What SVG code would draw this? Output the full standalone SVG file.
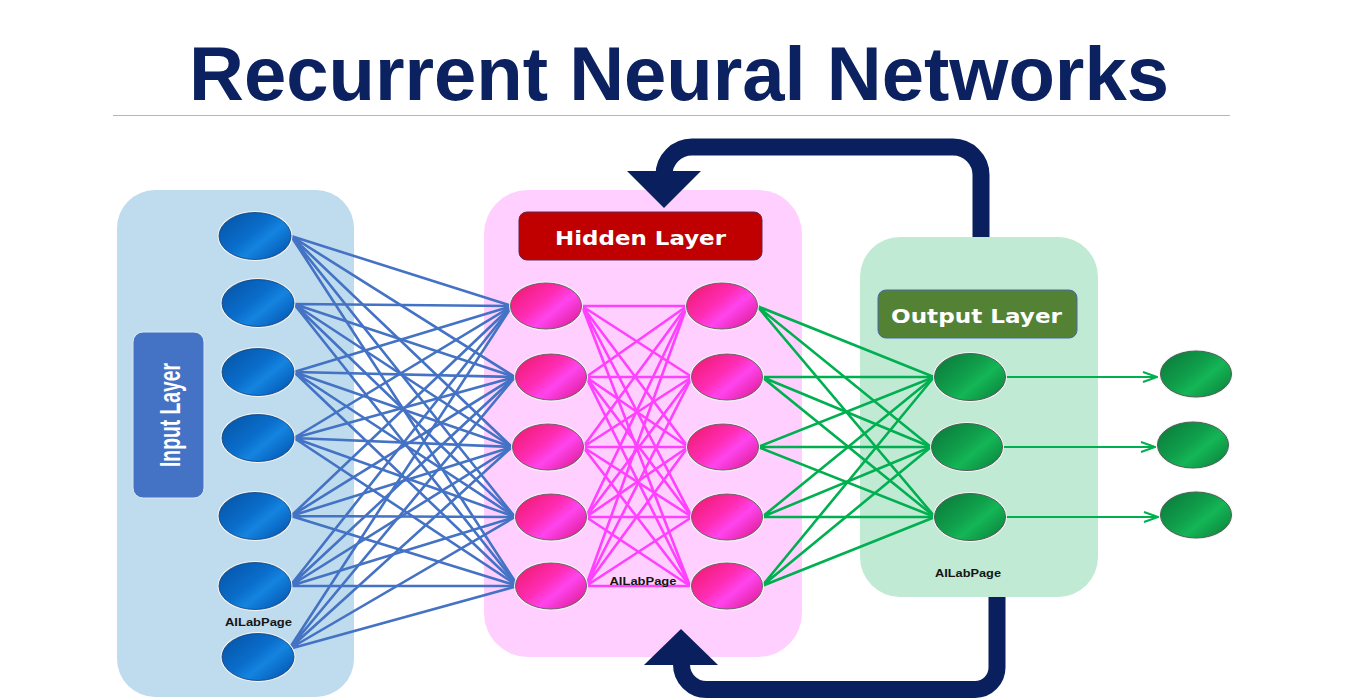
<svg xmlns="http://www.w3.org/2000/svg" width="1358" height="698" viewBox="0 0 1358 698">
<defs>
<linearGradient id="gBlue" x1="0" y1="0.1" x2="1" y2="0.9">
<stop offset="0" stop-color="#0654a6"/><stop offset="0.45" stop-color="#0a6ecc"/><stop offset="0.62" stop-color="#1484e0"/><stop offset="0.82" stop-color="#0a6ac6"/><stop offset="1" stop-color="#064e9e"/>
</linearGradient>
<linearGradient id="gPink" x1="0" y1="0.1" x2="1" y2="0.9">
<stop offset="0" stop-color="#ee1a6e"/><stop offset="0.42" stop-color="#ff2cb4"/><stop offset="0.62" stop-color="#ff44ee"/><stop offset="0.85" stop-color="#ea2ab4"/><stop offset="1" stop-color="#c61866"/>
</linearGradient>
<linearGradient id="gGreen" x1="0" y1="0.1" x2="1" y2="0.9">
<stop offset="0" stop-color="#0b7a3a"/><stop offset="0.45" stop-color="#10a04c"/><stop offset="0.62" stop-color="#14b656"/><stop offset="0.85" stop-color="#0e9646"/><stop offset="1" stop-color="#0a6c34"/>
</linearGradient>
<marker id="chev" viewBox="0 0 16 12" refX="15" refY="6" markerWidth="16" markerHeight="12" markerUnits="userSpaceOnUse" orient="auto">
<path d="M1 1 L15 6 L1 11" fill="none" stroke="#00b050" stroke-width="2"/>
</marker>
</defs>
<style>
.title{font-family:"Liberation Sans",Arial,sans-serif;font-weight:bold;font-size:76px;fill:#0b2160}
.panel{stroke:none}
.lbl{font-family:"DejaVu Sans",Verdana,sans-serif;font-weight:bold;font-size:20px;fill:#ffffff}
.wm{font-family:"Liberation Sans",Arial,sans-serif;font-size:11px;font-weight:bold;fill:#151515}
.halo{fill:#f2f4f6}
.nb{fill:url(#gBlue);stroke:#0a3c78;stroke-width:0.8}
.np{fill:url(#gPink);stroke:#6e6068;stroke-width:1}
.ng{fill:url(#gGreen);stroke:#4e5e52;stroke-width:1}
.cb{stroke:#4472c4;stroke-width:2.6;fill:none}
.cp{stroke:#ff40ff;stroke-width:2.6;fill:none}
.cg{stroke:#00b050;stroke-width:2.6;fill:none}
.ca{stroke:#00b050;stroke-width:2;fill:none}
.loop{stroke:#0a205e;stroke-width:17;fill:none}
.head{fill:#0a205e}
</style>
<rect width="1358" height="698" fill="#ffffff"/>
<g id="title">
<text class="title" x="679" y="100" text-anchor="middle">Recurrent Neural Networks</text>
<line x1="113" y1="115.5" x2="1230" y2="115.5" stroke="#a4b8d8" stroke-width="1.2"/>
</g>
<g id="input-panel"><rect class="panel" x="117" y="190" width="237" height="507" rx="38" fill="#bedcee"/></g>
<g id="hidden-panel"><rect class="panel" x="484" y="190" width="318" height="467" rx="44" fill="#ffd0ff"/></g>
<g id="output-panel"><rect class="panel" x="860" y="237" width="238" height="360" rx="40" fill="#c0ead4"/></g>
<g id="connectors">
<path class="loop" d="M981 237 V175 A28 28 0 0 0 953 147 H692 A28 28 0 0 0 664 175 V172"/>
<polygon class="head" points="627,171 701,171 664,208"/>
<path class="loop" d="M997 597 V667 A22 22 0 0 1 975 689.5 H706.5 A25 25 0 0 1 681.5 664.5 V663"/>
<polygon class="head" points="644,665 718,665 681,629"/>
<path class="cb" d="M291 236 L512 306 M291 236 L515 377 M291 236 L512 447 M291 236 L515 517 M291 236 L518 586"/>
<path class="cb" d="M294 304 L512 306 M294 304 L515 377 M294 304 L512 447 M294 304 L515 517 M294 304 L518 586"/>
<path class="cb" d="M294 372 L512 306 M294 372 L515 377 M294 372 L512 447 M294 372 L515 517 M294 372 L518 586"/>
<path class="cb" d="M294 438 L512 306 M294 438 L515 377 M294 438 L512 447 M294 438 L515 517 M294 438 L518 586"/>
<path class="cb" d="M291 516 L512 306 M291 516 L515 377 M291 516 L512 447 M291 516 L515 517 M291 516 L518 586"/>
<path class="cb" d="M290 586 L512 306 M290 586 L515 377 M290 586 L512 447 M290 586 L515 517 M290 586 L518 586"/>
<path class="cb" d="M289 649 L512 306 M289 649 L515 377 M289 649 L512 447 M289 649 L515 517 M289 649 L518 586"/>
<path class="cp" d="M582 306 L687 306 M582 306 L692 377 M582 306 L688 447 M582 306 L692 517 M582 306 L690 586"/>
<path class="cp" d="M586 377 L687 306 M586 377 L692 377 M586 377 L688 447 M586 377 L692 517 M586 377 L690 586"/>
<path class="cp" d="M583 447 L687 306 M583 447 L692 377 M583 447 L688 447 M583 447 L692 517 M583 447 L690 586"/>
<path class="cp" d="M586 517 L687 306 M586 517 L692 377 M586 517 L688 447 M586 517 L692 517 M586 517 L690 586"/>
<path class="cp" d="M586 586 L687 306 M586 586 L692 377 M586 586 L688 447 M586 586 L692 517 M586 586 L690 586"/>
<path class="cg" d="M757 306 L934 377 M757 306 L931 447 M757 306 L935 517"/>
<path class="cg" d="M762 377 L934 377 M762 377 L931 447 M762 377 L935 517"/>
<path class="cg" d="M758 447 L934 377 M758 447 L931 447 M758 447 L935 517"/>
<path class="cg" d="M762 517 L934 377 M762 517 L931 447 M762 517 L935 517"/>
<path class="cg" d="M762 586 L934 377 M762 586 L931 447 M762 586 L935 517"/>
<path class="ca" d="M1006 377 L1157 377" marker-end="url(#chev)"/>
<path class="ca" d="M1003 447 L1155 447" marker-end="url(#chev)"/>
<path class="ca" d="M1006 517 L1158 517" marker-end="url(#chev)"/>
</g>
<g id="input-label">
<rect x="133" y="332" width="71" height="166" rx="10" fill="#4472c4" stroke="#dbe6f2" stroke-width="1"/>
<text transform="translate(180,415) rotate(-90)" text-anchor="middle" font-family="Liberation Sans, Arial, sans-serif" font-size="29" font-weight="bold" fill="#ffffff" textLength="104" lengthAdjust="spacingAndGlyphs">Input Layer</text>
</g>
<g id="hidden-label">
<rect x="519" y="212" width="243" height="48" rx="8" fill="#c00000" stroke="#5a2a50" stroke-width="1"/>
<text class="lbl" x="640.5" y="245" text-anchor="middle" textLength="171" lengthAdjust="spacingAndGlyphs">Hidden Layer</text>
</g>
<g id="output-label">
<rect x="878" y="290" width="199" height="48" rx="8" fill="#548235" stroke="#4a68a8" stroke-width="1"/>
<text class="lbl" x="976.5" y="323" text-anchor="middle" textLength="171" lengthAdjust="spacingAndGlyphs">Output Layer</text>
</g>
<g id="in1"><ellipse class="halo" cx="255" cy="236" rx="37.5" ry="25"/><ellipse class="nb" cx="255" cy="236" rx="36" ry="23.5"/></g>
<g id="in2"><ellipse class="halo" cx="258" cy="303" rx="37.5" ry="25"/><ellipse class="nb" cx="258" cy="303" rx="36" ry="23.5"/></g>
<g id="in3"><ellipse class="halo" cx="258" cy="372" rx="37.5" ry="25"/><ellipse class="nb" cx="258" cy="372" rx="36" ry="23.5"/></g>
<g id="in4"><ellipse class="halo" cx="258" cy="438" rx="37.5" ry="25"/><ellipse class="nb" cx="258" cy="438" rx="36" ry="23.5"/></g>
<g id="in5"><ellipse class="halo" cx="255" cy="516" rx="37.5" ry="25"/><ellipse class="nb" cx="255" cy="516" rx="36" ry="23.5"/></g>
<g id="in6"><ellipse class="halo" cx="255" cy="586" rx="37.5" ry="25"/><ellipse class="nb" cx="255" cy="586" rx="36" ry="23.5"/></g>
<g id="in7"><ellipse class="halo" cx="258" cy="657" rx="37.5" ry="25"/><ellipse class="nb" cx="258" cy="657" rx="36" ry="23.5"/></g>
<g id="hl1"><ellipse class="halo" cx="546" cy="306" rx="37" ry="24.5"/><ellipse class="np" cx="546" cy="306" rx="35.5" ry="23"/></g>
<g id="hl2"><ellipse class="halo" cx="551" cy="377" rx="37" ry="24.5"/><ellipse class="np" cx="551" cy="377" rx="35.5" ry="23"/></g>
<g id="hl3"><ellipse class="halo" cx="548" cy="447" rx="37" ry="24.5"/><ellipse class="np" cx="548" cy="447" rx="35.5" ry="23"/></g>
<g id="hl4"><ellipse class="halo" cx="551" cy="517" rx="37" ry="24.5"/><ellipse class="np" cx="551" cy="517" rx="35.5" ry="23"/></g>
<g id="hl5"><ellipse class="halo" cx="551" cy="586" rx="37" ry="24.5"/><ellipse class="np" cx="551" cy="586" rx="35.5" ry="23"/></g>
<g id="hr1"><ellipse class="halo" cx="722" cy="306" rx="37" ry="24.5"/><ellipse class="np" cx="722" cy="306" rx="35.5" ry="23"/></g>
<g id="hr2"><ellipse class="halo" cx="727" cy="377" rx="37" ry="24.5"/><ellipse class="np" cx="727" cy="377" rx="35.5" ry="23"/></g>
<g id="hr3"><ellipse class="halo" cx="723" cy="447" rx="37" ry="24.5"/><ellipse class="np" cx="723" cy="447" rx="35.5" ry="23"/></g>
<g id="hr4"><ellipse class="halo" cx="727" cy="517" rx="37" ry="24.5"/><ellipse class="np" cx="727" cy="517" rx="35.5" ry="23"/></g>
<g id="hr5"><ellipse class="halo" cx="727" cy="586" rx="37" ry="24.5"/><ellipse class="np" cx="727" cy="586" rx="35.5" ry="23"/></g>
<g id="out1"><ellipse class="halo" cx="970" cy="377" rx="37" ry="25"/><ellipse class="ng" cx="970" cy="377" rx="35.5" ry="23.5"/></g>
<g id="out2"><ellipse class="halo" cx="967" cy="447" rx="37" ry="25"/><ellipse class="ng" cx="967" cy="447" rx="35.5" ry="23.5"/></g>
<g id="out3"><ellipse class="halo" cx="970" cy="517" rx="37" ry="25"/><ellipse class="ng" cx="970" cy="517" rx="35.5" ry="23.5"/></g>
<g id="y1"><ellipse class="halo" cx="1196" cy="374" rx="37" ry="24.5"/><ellipse class="ng" cx="1196" cy="374" rx="35.5" ry="23"/></g>
<g id="y2"><ellipse class="halo" cx="1193" cy="445" rx="37" ry="24.5"/><ellipse class="ng" cx="1193" cy="445" rx="35.5" ry="23"/></g>
<g id="y3"><ellipse class="halo" cx="1196" cy="515" rx="37" ry="24.5"/><ellipse class="ng" cx="1196" cy="515" rx="35.5" ry="23"/></g>
<g id="watermarks">
<text class="wm" x="258.5" y="626" text-anchor="middle" textLength="67" lengthAdjust="spacingAndGlyphs">AILabPage</text>
<text class="wm" x="643" y="585" text-anchor="middle" textLength="67" lengthAdjust="spacingAndGlyphs">AILabPage</text>
<text class="wm" x="968" y="577" text-anchor="middle" textLength="66" lengthAdjust="spacingAndGlyphs">AILabPage</text>
</g>
</svg>
